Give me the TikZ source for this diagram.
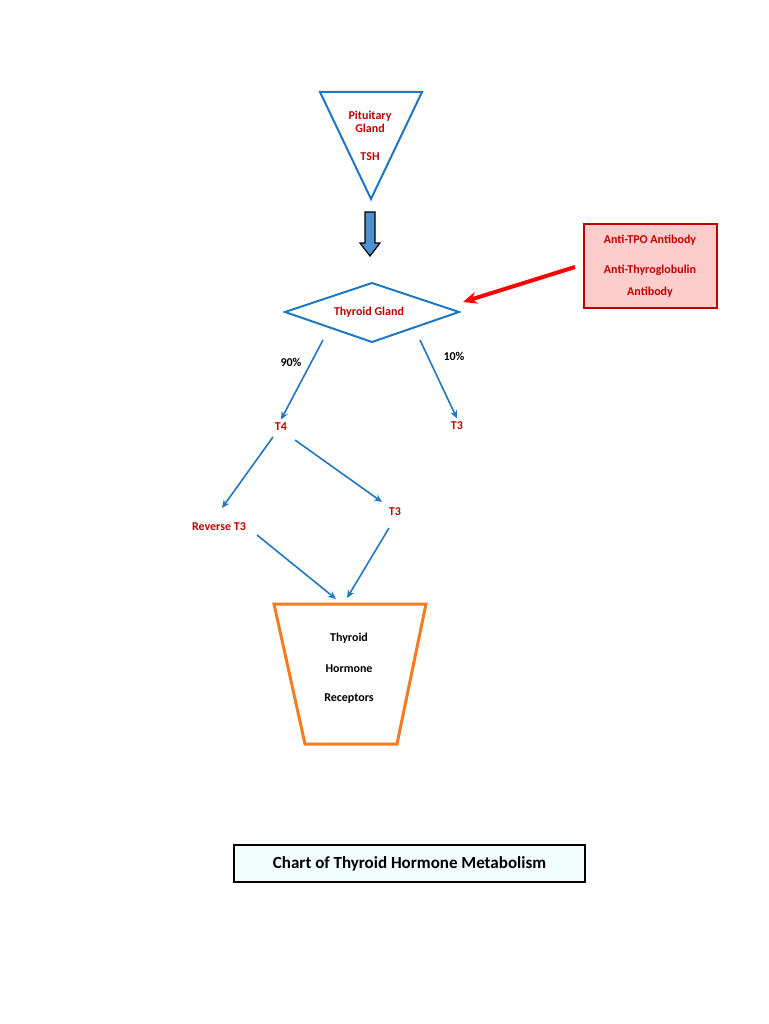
\documentclass[tikz,border=0pt]{standalone}
\usepackage{fontspec}
\setmainfont{Carlito}
\usetikzlibrary{arrows.meta,shapes.arrows}
\definecolor{bl}{HTML}{1F77C4}
\definecolor{dr}{HTML}{C00000}
\definecolor{og}{HTML}{F47B20}
\begin{document}
\begin{tikzpicture}[x=1pt,y=-1pt,
  lab/.style={font=\bfseries\fontsize{12}{14}\selectfont,text=dr},
  blk/.style={font=\bfseries\fontsize{12}{14}\selectfont,text=black},
  conn/.style={bl,line width=1.6pt,-{Stealth[length=8pt,width=7pt]}}]
\useasboundingbox (0,0) rectangle (768,1024);
% triangle
\draw[bl,line width=2pt] (320,92) -- (422,92) -- (371,199) -- cycle;
\node[lab] (pit) at (370,116) {Pituitary};
\node[lab] (gl) at (370,128) {Gland};
\node[lab] (tsh) at (370,157) {TSH};
% block arrow
\draw[fill=bl!80,draw=black,line width=1.2pt] (365,212) -- (375,212) -- (375,243) -- (380,243) -- (370,256) -- (360,243) -- (365,243) -- cycle;
% diamond
\draw[bl,line width=2pt] (285,312) -- (372,283) -- (459,312) -- (372,342) -- cycle;
\node[lab] (tg) at (369,312) {Thyroid Gland};
\coordinate (tgr) at (463,302);
% red box
\node[draw=dr,fill=red!20,line width=1.5pt,minimum width=133pt,minimum height=84pt] (ab) at (650.5,266) {};
\node[lab] at (650,240) {Anti-TPO Antibody};
\node[lab] at (650,270) {Anti-Thyroglobulin};
\node[lab] at (650,292) {Antibody};
\coordinate (abl) at (575,267);
\draw[red,line width=4pt,-{Stealth[length=14pt,width=12pt]}] (abl) -- (tgr);
% T nodes
\node[lab] (t4) at (281,427) {T4};
\node[lab] (t3a) at (457,426) {T3};
\node[lab] (rt3) at (219,527) {Reverse T3};
\node[lab] (t3b) at (395,512) {T3};
\node[blk] at (291,362) {90\%};
\node[blk] at (454,356) {10\%};
\coordinate (d1) at (323,340); \coordinate (d2) at (420,340);
\draw[conn] (d1) -- (t4.north);
\draw[conn] (d2) -- (t3a.north);
\draw[conn] (273,437) -- (222,508);
\draw[conn] (295,440) -- (382,502);
\draw[conn] (257,535) -- (336,599);
\draw[conn] (389,528) -- (347,598);
% trapezoid
\draw[og,line width=3pt] (274,604) -- (426,604) -- (397,744) -- (305,744) -- cycle;
\node[blk] (rec) at (349,638) {Thyroid};
\node[blk] at (349,669) {Hormone};
\node[blk] at (349,699) {Receptors};
% title
\node[draw=black,fill=blue!8!cyan!5,line width=2.5pt,minimum width=351pt,minimum height=37pt,
  font=\bfseries\fontsize{17}{20}\selectfont] (title) at (409.5,863.5) {Chart of Thyroid Hormone Metabolism};
\end{tikzpicture}
\end{document}
